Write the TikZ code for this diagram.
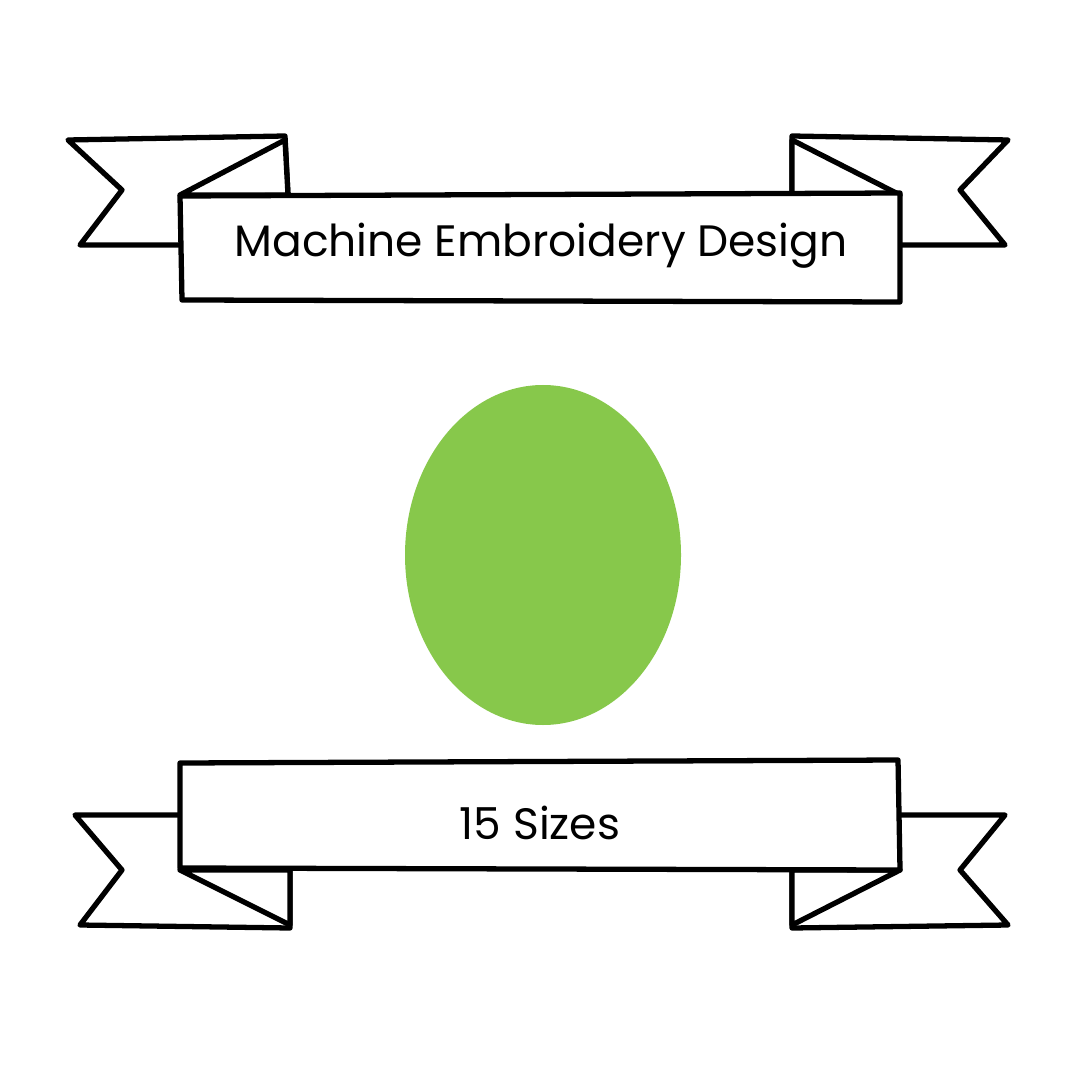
\documentclass[tikz,border=0pt]{standalone}
\usepackage{fontspec}
\setmainfont{Poppins}
\definecolor{leaf}{RGB}{135,200,75}
\tikzset{ink/.style={line width=1.5pt,line join=round,line cap=round,fill=white},
lbl/.style={font=\fontsize{12.5}{14}\selectfont}}
\begin{document}
\begin{tikzpicture}[x=0.01cm,y=-0.01cm]
\useasboundingbox (0,0) rectangle (1080,1080);
% top banner tails
\draw[ink] (68,140) -- (285,136) -- (288,195) -- (180,245) -- (80,245) -- (122,190) -- cycle;
\draw[ink] (180,195) -- (285,140) -- (288,195) -- cycle;
\draw[ink] (792,136) -- (1008,140) -- (960,190) -- (1005,245) -- (900,245) -- (792,195) -- cycle;
\draw[ink] (792,140) -- (900,195) -- (792,195) -- cycle;
\draw[ink] (180,196) -- (900,193) -- (900,302) -- (182,300) -- cycle;
\node[lbl] (t1) at (541,246) {Machine Embroidery Design};
% bottom banner tails
\draw[ink] (75,815) -- (180,815) -- (290,870) -- (290,928) -- (80,925) -- (122,870) -- cycle;
\draw[ink] (180,870) -- (290,925) -- (290,870) -- cycle;
\draw[ink] (900,815) -- (1005,815) -- (960,870) -- (1008,925) -- (792,928) -- (792,870) -- cycle;
\draw[ink] (792,925) -- (900,870) -- (792,870) -- cycle;
\draw[ink] (180,763) -- (898,760) -- (900,870) -- (180,868) -- cycle;
\node[lbl] (t2) at (540,823) {15 Sizes};
% oval
\fill[leaf] (543,555) ellipse [x radius=138, y radius=170];
\end{tikzpicture}
\end{document}
